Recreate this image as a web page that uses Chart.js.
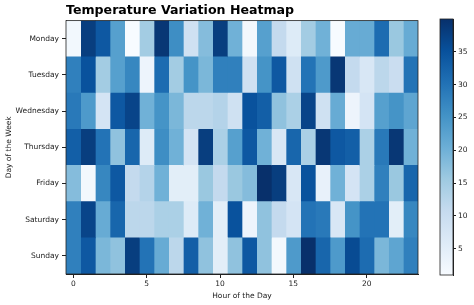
<!DOCTYPE html>
<html>
<head>
<meta charset="utf-8">
<script src="https://cdn.jsdelivr.net/npm/chart.js@4.4.1/dist/chart.umd.min.js"></script>
<style>
  html, body { margin: 0; padding: 0; background: #fff; }
  #wrap { position: relative; width: 474px; height: 305px; }
  #main { position: absolute; left: 0; top: 0; }
  #cbar { position: absolute; left: 428px; top: 0; }
</style>
</head>
<body>
<div id="wrap">
  <canvas id="main" width="474" height="305"></canvas>
  <canvas id="cbar" width="46" height="305"></canvas>
</div>
<script>
// ---------- data ----------
const days = ['Monday', 'Tuesday', 'Wednesday', 'Thursday', 'Friday', 'Saturday', 'Sunday'];
const hours = [0,1,2,3,4,5,6,7,8,9,10,11,12,13,14,15,16,17,18,19,20,21,22,23];
const hourTicks = [0, 5, 10, 15, 20];
const colorbarTicks = [5, 10, 15, 20, 25, 30, 35];

const monday    = [2,38,34,23,1,15,39,26,9,18,38,20,2,23,11,6,15,20,1,21,21,31,16,21];
const tuesday   = [28,35,15,23,27,3,31,15,25,19,28,28,9,25,34,9,30,24,39,11,7,12,10,30];
const wednesday = [29,24,8,34,37,20,25,19,12,12,13,9,35,33,17,14,37,9,21,3,8,23,25,22];
const thursday  = [33,38,30,17,32,6,26,20,8,38,14,23,34,20,7,32,14,39,34,33,14,29,39,20];
const friday    = [18,2,27,34,11,13,20,5,5,16,11,16,18,40,38,7,35,4,20,8,14,28,16,32];
const saturday  = [28,37,21,32,12,12,14,14,6,20,5,35,3,17,11,8,30,29,7,25,30,30,5,27];
const sunday    = [28,34,19,17,38,30,21,12,33,17,5,17,34,17,2,24,40,32,24,36,31,19,22,28];

const rows = [monday, tuesday, wednesday, thursday, friday, saturday, sunday];

// ---------- colour map (matplotlib "Blues") ----------
const blues = ['#f7fbff','#deebf7','#c6dbef','#9ecae1','#6baed6','#4292c6','#2171b5','#08519c','#08306b'];
const allVals = rows.flat();
const vmin = Math.min(...allVals);
const vmax = Math.max(...allVals);
function hexToRgb(h) { return [parseInt(h.substr(1,2),16), parseInt(h.substr(3,2),16), parseInt(h.substr(5,2),16)]; }
const bluesRgb = blues.map(hexToRgb);
function colorFor(v) {
  let t = (v - vmin) / (vmax - vmin);
  t = Math.max(0, Math.min(1, t));
  const p = t * (bluesRgb.length - 1);
  const i = Math.min(Math.floor(p), bluesRgb.length - 2);
  const f = p - i;
  const a = bluesRgb[i], b = bluesRgb[i + 1];
  return 'rgb(' + [0,1,2].map(k => Math.round(a[k] + (b[k] - a[k]) * f)).join(',') + ')';
}

const FONT = 'DejaVu Sans';
const TXT = '#222';

// one floating-bar dataset per hour; each bar spans its hour cell on a linear x axis
const datasets = hours.map((h, hi) => ({
  label: String(h),
  data: days.map((d, di) => ({ x: [h - 0.5, h + 0.5], y: d, v: rows[di][hi] })),
  backgroundColor: days.map((d, di) => colorFor(rows[di][hi])),
  borderWidth: 0,
  barPercentage: 1,
  categoryPercentage: 1
}));

const framePlugin = {
  id: 'frame',
  afterDatasetsDraw(chart) {
    const a = chart.chartArea, c = chart.ctx;
    c.save();
    c.strokeStyle = TXT;
    c.lineWidth = 0.8;
    c.strokeRect(a.left, a.top, a.right - a.left, a.bottom - a.top);
    c.restore();
  }
};

new Chart(document.getElementById('main'), {
  type: 'bar',
  data: { labels: days, datasets },
  options: {
    indexAxis: 'y',
    responsive: false,
    animation: false,
    layout: { padding: { left: 0, right: 56, top: 0, bottom: 0 } },
    plugins: {
      legend: { display: false },
      tooltip: { enabled: false },
      title: {
        display: true,
        text: 'Temperature Variation Heatmap',
        align: 'start',
        fullSize: false,
        color: '#000',
        font: { family: FONT, size: 12.6, weight: 'bold' },
        padding: { top: 3, bottom: 2.5 }
      }
    },
    scales: {
      x: {
        type: 'linear',
        min: -0.5,
        max: 23.5,
        afterBuildTicks: s => { s.ticks = hourTicks.map(v => ({ value: v })); },
        afterFit: s => { s.height = 31; },
        grid: { display: true, drawOnChartArea: false, tickLength: 4, color: TXT },
        border: { display: true, color: TXT },
        ticks: { color: TXT, font: { family: FONT, size: 7.5 }, padding: 2, maxRotation: 0 },
        title: { display: true, text: 'Hour of the Day', color: TXT, font: { family: FONT, size: 7.5 }, padding: { top: 2, bottom: 4 } }
      },
      y: {
        type: 'category',
        stacked: true,
        afterFit: s => { s.width = 66; },
        grid: { display: true, drawOnChartArea: false, tickLength: 4, color: TXT, offset: false },
        border: { display: true, color: TXT },
        ticks: { color: TXT, font: { family: FONT, size: 7.5 }, padding: 3 },
        title: { display: true, text: 'Day of the Week', color: TXT, font: { family: FONT, size: 7.5 }, padding: { top: 5, bottom: 0 } }
      }
    }
  },
  plugins: [framePlugin]
});

// ---------- colour bar ----------
function barGradient(ctx) {
  const chart = ctx.chart;
  const ys = chart.scales.y;
  if (!ys || !chart.chartArea) return blues[4];
  const y0 = ys.getPixelForValue(vmin), y1 = ys.getPixelForValue(vmax);
  const g = chart.ctx.createLinearGradient(0, y0, 0, y1);
  blues.forEach((c, i) => g.addColorStop(i / (blues.length - 1), c));
  return g;
}

new Chart(document.getElementById('cbar'), {
  type: 'bar',
  data: {
    labels: [''],
    datasets: [{ data: [[vmin, vmax]], backgroundColor: barGradient, borderWidth: 0, barPercentage: 1, categoryPercentage: 1 }]
  },
  options: {
    responsive: false,
    animation: false,
    layout: { padding: { left: 12, right: 0, top: 19, bottom: 30 } },
    plugins: { legend: { display: false }, tooltip: { enabled: false } },
    scales: {
      x: { display: false },
      y: {
        type: 'linear',
        position: 'right',
        min: vmin,
        max: vmax,
        afterBuildTicks: s => { s.ticks = colorbarTicks.map(v => ({ value: v })); },
        afterFit: s => { s.width = 21; },
        grid: { display: true, drawOnChartArea: false, tickLength: 3, color: TXT },
        border: { display: true, color: TXT },
        ticks: { color: TXT, font: { family: FONT, size: 7.5 }, padding: 2 }
      }
    }
  },
  plugins: [framePlugin]
});
</script>
</body>
</html>
